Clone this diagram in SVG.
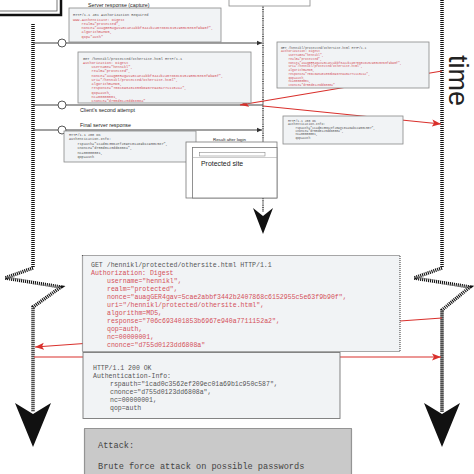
<svg xmlns="http://www.w3.org/2000/svg" width="474" height="474" viewBox="0 0 474 474">
<style>
.mono{font-family:"Liberation Mono","DejaVu Sans Mono",monospace;}
.sans{font-family:"Liberation Sans",Arial,sans-serif;fill:#222;}
.dk{fill:#555;}
.rd{fill:#d4505a;}
.hatch{fill:none;stroke:#111;stroke-width:3.5;stroke-dasharray:1.1 0.9;}
.tl{fill:none;stroke:#444;stroke-width:1.2;}
.box{fill:#f1f3f5;stroke:#888;stroke-width:0.8;}
.dbox{fill:#f1f3f5;stroke:#555;stroke-width:1.2;stroke-dasharray:1 1;}
.red{fill:none;stroke:#d9302c;stroke-width:1.2;}
.circ{fill:#fff;stroke:#444;stroke-width:0.9;}
</style>
<defs>
<marker id="ah" markerWidth="6" markerHeight="6" refX="5" refY="3" orient="auto" markerUnits="userSpaceOnUse"><path d="M0,0.8 L5,3 L0,5.2 z" fill="#333"/></marker>
<marker id="rh" markerWidth="10" markerHeight="8" refX="9" refY="4" orient="auto" markerUnits="userSpaceOnUse"><path d="M0,0.5 L9,4 L0,7.5 L2,4 z" fill="#d9302c"/></marker>
</defs>
<rect width="474" height="474" fill="#fff"/>

<g id="connectors">
<!-- left hatched timeline -->
<polyline class="hatch" points="33,24 33,268 5,278 61,287 33,307 33,412"/>
<!-- right time line -->
<polyline class="hatch" points="442,0 442,268 414,278 470,287 442,310 442,412"/>
<!-- top-section server line -->
<line x1="263" y1="0" x2="263" y2="212" stroke="#666" stroke-width="2" stroke-dasharray="1 0.8"/>
<polygon points="253,208 263,216 273,208 263,234" fill="#111"/>
<polygon points="15,403 33,414 51,403 33,447" fill="#111"/>
<polygon points="424,403 442,414 460,403 442,447" fill="#111"/>
<!-- horizontal messages -->
<line class="tl" x1="33" y1="43" x2="262" y2="43" marker-end="url(#ah)"/>
<line class="tl" x1="33" y1="105" x2="263" y2="105"/>
<line class="tl" x1="33" y1="130" x2="262" y2="130" marker-end="url(#ah)"/>
<!-- red arrows top -->
<line class="red" x1="442" y1="71" x2="240" y2="105" marker-end="url(#rh)"/>
<line class="red" x1="263" y1="106" x2="441" y2="124" marker-end="url(#rh)"/>
<!-- red arrows bottom -->
<line class="red" x1="442" y1="318" x2="35" y2="347" marker-end="url(#rh)"/>
<line class="red" x1="34" y1="357" x2="441" y2="357" marker-end="url(#rh)"/>
</g>

<g id="client-box">
<rect x="-5" y="-5" width="66" height="20" fill="#fff" stroke="#111" stroke-width="2.5"/>
<rect x="-5" y="-5" width="62" height="16" fill="none" stroke="#555" stroke-width="0.8"/>
</g>
<g id="server-box">
<rect x="229" y="-5" width="81" height="11" fill="#fff" stroke="#888" stroke-width="0.8"/>
</g>

<g id="steps">
<circle class="circ" cx="62" cy="43" r="4"/>
<circle class="circ" cx="62" cy="105" r="4"/>
<circle class="circ" cx="62" cy="130" r="4"/>
</g>

<g id="labels">
<text class="sans" x="88" y="6.5" font-size="5.3">Server response (capture)</text>
<text class="sans" x="80" y="111.5" font-size="5.3">Client's second attempt</text>
<text class="sans" x="80" y="127" font-size="5.3">Final server response</text>
<text class="sans" x="213" y="141" font-size="4.4">Result after login</text>
<text class="sans" x="0" y="0" font-size="27" transform="translate(449,55) rotate(90)">time</text>
</g>

<g id="capture-box">
<rect class="box" x="69" y="8" width="152" height="34"/>
<g class="mono" font-size="3.6">
<text class="dk" x="73" y="16.2">HTTP/1.1 401 Authorization Required</text>
<text class="rd" x="73" y="20.5">WWW-Authenticate: Digest</text>
<text class="rd" x="81.6" y="24.8">realm="protected",</text>
<text class="rd" x="81.6" y="29.1">nonce="auagGER4gav=5cae2abbf3442b2407868c6152955c5e63f9b90f",</text>
<text class="rd" x="81.6" y="33.4">algorithm=MD5,</text>
<text class="rd" x="81.6" y="37.7">qop="auth"</text>
</g>
</g>

<g id="second-attempt-box">
<rect class="box" x="78" y="52" width="173" height="51"/>
<g class="mono" font-size="3.6">
<text class="dk" x="83" y="59.5">GET /hennikl/protected/othersite.html HTTP/1.1</text>
<text class="rd" x="83" y="63.8">Authorization: Digest</text>
<text class="rd" x="91.6" y="68.1">username="hennikl",</text>
<text class="rd" x="91.6" y="72.3">realm="protected",</text>
<text class="rd" x="91.6" y="76.6">nonce="auagGER4gav=5cae2abbf3442b2407868c6152955c5e63f9b90f",</text>
<text class="rd" x="91.6" y="80.9">uri="/hennikl/protected/othersite.html",</text>
<text class="rd" x="91.6" y="85.1">algorithm=MD5,</text>
<text class="rd" x="91.6" y="89.4">response="706c693401853b6967e940a7711152a2",</text>
<text class="rd" x="91.6" y="93.7">qop=auth,</text>
<text class="rd" x="91.6" y="97.9">nc=00000001,</text>
<text class="rd" x="91.6" y="102.2">cnonce="d755d0123dd6808a"</text>
</g>
</g>

<g id="forged-request-box">
<rect class="box" x="277" y="42" width="152" height="46"/>
<g class="mono" font-size="3.1">
<text class="dk" x="281" y="48.7">GET /hennikl/protected/othersite.html HTTP/1.1</text>
<text class="rd" x="281" y="52.4">Authorization: Digest</text>
<text class="rd" x="288.4" y="56.2">username="hennikl",</text>
<text class="rd" x="288.4" y="59.9">realm="protected",</text>
<text class="rd" x="288.4" y="63.6">nonce="auagGER4gav=5cae2abbf3442b2407868c6152955c5e63f9b90f",</text>
<text class="rd" x="288.4" y="67.4">uri="/hennikl/protected/othersite.html",</text>
<text class="rd" x="288.4" y="71.1">algorithm=MD5,</text>
<text class="rd" x="288.4" y="74.8">response="706c693401853b6967e940a7711152a2",</text>
<text class="rd" x="288.4" y="78.5">qop=auth,</text>
<text class="rd" x="288.4" y="82.3">nc=00000001,</text>
<text class="rd" x="288.4" y="86">cnonce="d755d0123dd6808a"</text>
</g>
</g>

<g id="forged-response-box">
<rect class="box" x="283" y="116" width="120" height="28"/>
<g class="mono dk" font-size="3.1">
<text x="288" y="121.7">HTTP/1.1 200 OK</text>
<text x="288" y="125.1">Authentication-Info:</text>
<text x="295.4" y="128.5">rspauth="1cad0c3562ef209ec01a69b1c950c587",</text>
<text x="295.4" y="131.9">cnonce="d755d0123dd6808a",</text>
<text x="295.4" y="135.3">nc=00000001,</text>
<text x="295.4" y="138.7">qop=auth</text>
</g>
</g>

<g id="final-response-box">
<rect class="box" x="64" y="131" width="132" height="31"/>
<g class="mono dk" font-size="3.5">
<text x="69" y="135.8">HTTP/1.1 200 OK</text>
<text x="69" y="140.2">Authentication-Info:</text>
<text x="77.4" y="144.7">rspauth="1cad0c3562ef209ec01a69b1c950c587",</text>
<text x="77.4" y="149.1">cnonce="d755d0123dd6808a",</text>
<text x="77.4" y="153.6">nc=00000001,</text>
<text x="77.4" y="158">qop=auth</text>
</g>
</g>

<g id="protected-site">
<rect x="186" y="142" width="91" height="56" fill="#fff" stroke="#777" stroke-width="0.8"/>
<rect x="192.5" y="147.5" width="84.5" height="50.5" fill="#fff" stroke="#777" stroke-width="0.8"/>
<line x1="192.5" y1="157.5" x2="277" y2="157.5" stroke="#999" stroke-width="0.5"/>
<rect x="199.5" y="152.5" width="65.5" height="3.5" fill="#fff" stroke="#777" stroke-width="0.5"/>
<text class="sans" x="201" y="166" font-size="6.9">Protected site</text>
</g>

<g id="request-box">
<rect class="dbox" x="82.5" y="255.5" width="317.5" height="96"/>
<g class="mono" font-size="6.55">
<text class="dk" x="91" y="266.5">GET /hennikl/protected/othersite.html HTTP/1.1</text>
<text class="rd" x="91" y="274.5">Authorization: Digest</text>
<text class="rd" x="107" y="282.5">username="hennikl",</text>
<text class="rd" x="107" y="290.5">realm="protected",</text>
<text class="rd" x="107" y="298.5">nonce="auagGER4gav=5cae2abbf3442b2407868c6152955c5e63f9b90f",</text>
<text class="rd" x="107" y="306.5">uri="/hennikl/protected/othersite.html",</text>
<text class="rd" x="107" y="314.5">algorithm=MD5,</text>
<text class="rd" x="107" y="322.5">response="706c693401853b6967e940a7711152a2",</text>
<text class="rd" x="107" y="330.5">qop=auth,</text>
<text class="rd" x="107" y="338.5">nc=00000001,</text>
<text class="rd" x="107" y="346.5">cnonce="d755d0123dd6808a"</text>
</g>
</g>

<g id="response-box">
<rect x="83" y="352.5" width="257" height="66" fill="#f1f3f5" stroke="#777" stroke-width="0.9"/>
<g class="mono dk" font-size="6.5">
<text x="93" y="369.5">HTTP/1.1 200 OK</text>
<text x="93" y="377.5">Authentication-Info:</text>
<text x="110" y="385.5">rspauth="1cad0c3562ef209ec01a69b1c950c587",</text>
<text x="110" y="393.5">cnonce="d755d0123dd6808a",</text>
<text x="110" y="401.5">nc=00000001,</text>
<text x="110" y="409.5">qop=auth</text>
</g>
</g>

<g id="attack-box">
<rect x="84.5" y="428.5" width="267" height="60" fill="#c9c9c9" stroke="#444" stroke-width="1.2" stroke-dasharray="1 1"/>
<g class="mono" font-size="8.6" fill="#444">
<text x="98" y="448">Attack:</text>
<text x="98" y="468.5">Brute force attack on possible passwords</text>
</g>
</g>
</svg>
